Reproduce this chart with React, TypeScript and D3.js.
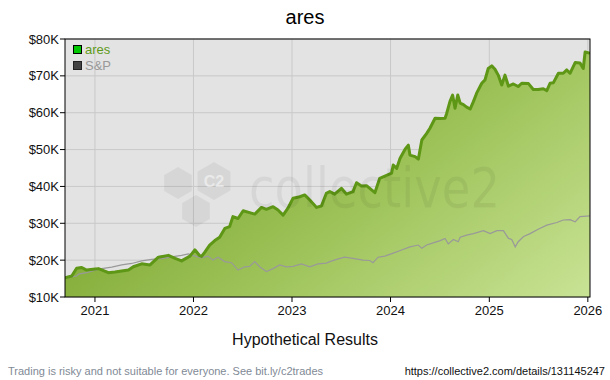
import React from "react";
import * as d3 from "d3";

const title = "ares";
const xLabel = "Hypothetical Results";
const footerLeft = "Trading is risky and not suitable for everyone. See bit.ly/c2trades";
const footerRight = "https://collective2.com/details/131145247";
const seriesNames = ["ares", "S&P"];

const aresDates = [
  "2020-09-12", "2020-10-07", "2020-10-25", "2020-11-13", "2020-12-01", "2021-01-02", "2021-01-14",
  "2021-02-20", "2021-03-16", "2021-05-05", "2021-05-23", "2021-06-23", "2021-07-24", "2021-08-24",
  "2021-09-30", "2021-10-25", "2021-11-18", "2021-12-19", "2022-01-06", "2022-01-24", "2022-01-31",
  "2022-02-12", "2022-03-02", "2022-03-21", "2022-04-08", "2022-04-27", "2022-05-15", "2022-05-27",
  "2022-06-15", "2022-07-04", "2022-07-28", "2022-08-16", "2022-09-10", "2022-09-28", "2022-10-23",
  "2022-11-10", "2022-11-29", "2022-12-17", "2023-01-05", "2023-01-30", "2023-02-17", "2023-03-08",
  "2023-04-02", "2023-04-20", "2023-05-08", "2023-05-21", "2023-06-08", "2023-07-03", "2023-07-22",
  "2023-08-15", "2023-08-28", "2023-09-15", "2023-10-04", "2023-11-04", "2023-11-22", "2023-12-11",
  "2024-01-05", "2024-01-11", "2024-01-24", "2024-02-05", "2024-02-24", "2024-03-07", "2024-03-13",
  "2024-04-01", "2024-04-13", "2024-04-26", "2024-05-14", "2024-05-26", "2024-06-14", "2024-07-03",
  "2024-07-21", "2024-07-27", "2024-08-08", "2024-08-18", "2024-08-27", "2024-09-06", "2024-09-15",
  "2024-09-27", "2024-10-09", "2024-10-22", "2024-11-03", "2024-11-15", "2024-12-04", "2024-12-16",
  "2024-12-28", "2025-01-10", "2025-01-22", "2025-02-03", "2025-02-16", "2025-02-28", "2025-03-13",
  "2025-03-31", "2025-04-18", "2025-05-01", "2025-05-26", "2025-06-13", "2025-07-01", "2025-07-20",
  "2025-08-02", "2025-08-14", "2025-08-26", "2025-09-14", "2025-10-02", "2025-10-15", "2025-10-27",
  "2025-11-15", "2025-12-03", "2025-12-15", "2025-12-22", "2026-01-09",
];
const aresValues = [
  15200, 15700, 17800, 18000, 17300, 17600, 17700,
  16600, 16800, 17300, 18200, 19000, 18700, 20800,
  21300, 20500, 19800, 21100, 22800, 21200, 21000,
  22200, 24100, 25300, 26200, 28600, 29100, 31800,
  31300, 33400, 32900, 32500, 34300, 33800, 34500,
  33600, 32200, 34100, 36800, 37200, 37700, 36300,
  34300, 34700, 38100, 38600, 37900, 39500, 37900,
  38600, 41000, 40100, 40200, 38300, 42200, 42800,
  43600, 45800, 44900, 47600, 50100, 51200, 48500,
  48100, 47400, 52600, 54400, 55800, 58500, 58400,
  58500, 59800, 63000, 64800, 61200, 64800, 62600,
  62200, 61500, 61000, 63000, 65300, 68000, 68900,
  72000, 72700, 71800, 70200, 67500, 70200, 67200,
  67800, 67100, 68000, 67900, 66300, 66300, 66500,
  66000, 68000, 68100, 70700, 70700, 71600, 70700,
  73600, 73500, 72000, 76500, 76100,
];

const spDates = [
  "2020-09-12", "2020-10-25", "2020-11-01", "2020-12-01", "2021-01-02", "2021-01-26", "2021-03-04",
  "2021-04-10", "2021-05-17", "2021-06-23", "2021-07-30", "2021-09-05", "2021-10-12", "2021-11-18",
  "2021-12-13", "2022-01-07", "2022-01-30", "2022-02-24", "2022-03-14", "2022-04-02", "2022-04-27",
  "2022-05-22", "2022-06-15", "2022-07-10", "2022-07-28", "2022-08-16", "2022-09-03", "2022-09-28",
  "2022-10-23", "2022-11-16", "2022-12-11", "2023-01-05", "2023-02-05", "2023-03-08", "2023-04-07",
  "2023-05-08", "2023-05-21", "2023-06-15", "2023-07-15", "2023-08-15", "2023-09-21", "2023-10-16",
  "2023-10-28", "2023-11-16", "2023-12-11", "2024-01-11", "2024-02-11", "2024-03-13", "2024-04-13",
  "2024-04-26", "2024-05-14", "2024-06-07", "2024-07-03", "2024-07-21", "2024-08-02", "2024-08-21",
  "2024-09-08", "2024-09-15", "2024-10-09", "2024-11-03", "2024-12-10", "2025-01-04", "2025-01-29",
  "2025-02-22", "2025-03-13", "2025-03-25", "2025-04-07", "2025-04-18", "2025-05-08", "2025-06-01",
  "2025-07-01", "2025-08-02", "2025-09-08", "2025-10-02", "2025-10-27", "2025-11-15", "2025-12-03",
  "2026-01-09",
];
const spValues = [
  15200, 15700, 16200, 16600, 17300, 17700, 18100,
  18700, 19100, 19800, 20200, 20400, 20900, 21300,
  21700, 21100, 20600, 21100, 20000, 20800, 19600,
  19300, 17300, 18200, 18300, 19600, 18200, 16900,
  17700, 18700, 18200, 18300, 19000, 18200, 19000,
  19200, 19600, 20200, 20800, 20500, 20000, 19900,
  19300, 20800, 21100, 21900, 22750, 23600, 24100,
  23200, 24100, 24700, 25300, 25900, 24400, 25600,
  25000, 26200, 26800, 27200, 28000, 27200, 28000,
  28000, 25900, 25600, 23600, 25000, 26400, 27200,
  28400, 29500, 30200, 30900, 31000, 30400, 31800,
  32000,
];

const yTicks = [10000, 20000, 30000, 40000, 50000, 60000, 70000, 80000];
const xTickYears = [2021, 2022, 2023, 2024, 2025, 2026];

const W = 610;
const H = 380;
const FONT = "'Liberation Sans', Arial, sans-serif";

export default function App() {
  const parse = d3.timeParse("%Y-%m-%d");
  const ares = aresDates.map((d, i) => ({ date: parse(d) as Date, v: aresValues[i] }));
  const sp = spDates.map((d, i) => ({ date: parse(d) as Date, v: spValues[i] }));

  const left = 65, right = 590, top = 39, bottom = 297;
  const x = d3.scaleTime()
    .domain([parse("2020-09-12") as Date, parse("2026-01-09") as Date])
    .range([left, right]);
  const y = d3.scaleLinear().domain([10000, 80000]).range([bottom, top]);

  const area = d3.area<{ date: Date; v: number }>()
    .x((d) => x(d.date))
    .y0(y(10000))
    .y1((d) => y(d.v));
  const line = d3.line<{ date: Date; v: number }>()
    .x((d) => x(d.date))
    .y((d) => y(d.v));

  const fmt = (v: number) => "$" + d3.format("d")(v / 1000) + "K";

  const hex = (cx: number, cy: number, r: number) => {
    const pts: string[] = [];
    for (let i = 0; i < 6; i++) {
      const a = (Math.PI / 3) * i - Math.PI / 2;
      pts.push(`${cx + r * Math.cos(a)},${cy + r * Math.sin(a)}`);
    }
    return pts.join(" ");
  };

  return (
    <svg width={W} height={H} style={{ position: "absolute", left: 0, top: 0, fontFamily: FONT }}>
      <defs>
        <linearGradient id="aresFill" x1="0" y1="0.4" x2="1" y2="1">
          <stop offset="0" stopColor="#74a027" />
          <stop offset="0.5" stopColor="#9dc258" />
          <stop offset="1" stopColor="#c9e395" />
        </linearGradient>
        <clipPath id="plotClip">
          <rect x={left} y={top} width={right - left} height={bottom - top} />
        </clipPath>
      </defs>
      <rect x={0} y={0} width={W} height={H} fill="#ffffff" />
      <text x={W / 2} y={24} textAnchor="middle" fontSize={20} fill="#000">{title}</text>

      <rect x={left} y={top} width={right - left} height={bottom - top} fill="#e3e3e3" />
      {yTicks.map((t) => (
        <line key={"gy" + t} x1={left} x2={right} y1={y(t)} y2={y(t)} stroke="#c9c9c9" strokeWidth={1} />
      ))}
      {xTickYears.map((yr) => {
        const xx = x(new Date(yr, 0, 1));
        return <line key={"gx" + yr} x1={xx} x2={xx} y1={top} y2={bottom} stroke="#c9c9c9" strokeWidth={1} />;
      })}

      <g clipPath="url(#plotClip)">
        <path d={area(ares) || ""} fill="url(#aresFill)" />
        <path d={line(sp) || ""} fill="none" stroke="#999999" strokeWidth={1.2} />
        <path d={line(ares) || ""} fill="none" stroke="#5e9616" strokeWidth={3} strokeLinejoin="round" />
        <g fill="#000" fillOpacity={0.055}>
          <polygon points={hex(178, 183, 16)} />
          <polygon points={hex(214, 181, 19)} />
          <polygon points={hex(196, 211, 16)} />
          <text x={249} y={207} fontSize={55} textLength={251} lengthAdjust="spacingAndGlyphs"
            fontFamily="'DejaVu Sans', sans-serif">collective2</text>
        </g>
        <text x={214} y={187} textAnchor="middle" fontSize={16} fontWeight="bold" fill="#ffffff" fillOpacity={0.5}>C2</text>
      </g>

      <rect x={left} y={top} width={right - left} height={bottom - top} fill="none" stroke="#000" strokeWidth={1} />

      {yTicks.map((t) => (
        <g key={"ty" + t}>
          <line x1={left - 5} x2={left} y1={y(t)} y2={y(t)} stroke="#000" />
          <text x={left - 6} y={y(t) + 4.5} textAnchor="end" fontSize={13} fill="#111">{fmt(t)}</text>
        </g>
      ))}
      {xTickYears.map((yr) => {
        const xx = x(new Date(yr, 0, 1));
        return (
          <g key={"tx" + yr}>
            <line x1={xx} x2={xx} y1={bottom} y2={bottom + 5} stroke="#000" />
            <text x={xx} y={bottom + 18} textAnchor="middle" fontSize={13} fill="#111">{yr}</text>
          </g>
        );
      })}

      <rect x={73.5} y={45.5} width={8} height={8} fill="#00c800" stroke="#000" strokeWidth={1} />
      <text x={85} y={53.5} fontSize={13} fill="#5f9a1a">{seriesNames[0]}</text>
      <rect x={73.5} y={61.5} width={8} height={8} fill="#444444" stroke="#222" strokeWidth={1} />
      <text x={85} y={69.5} fontSize={13} fill="#999999">{seriesNames[1]}</text>

      <text x={W / 2} y={345} textAnchor="middle" fontSize={16} fill="#111">{xLabel}</text>
      <text x={8} y={375} fontSize={11} fill="#7f8a96">{footerLeft}</text>
      <text x={605} y={375} textAnchor="end" fontSize={11} fill="#111">{footerRight}</text>
    </svg>
  );
}
